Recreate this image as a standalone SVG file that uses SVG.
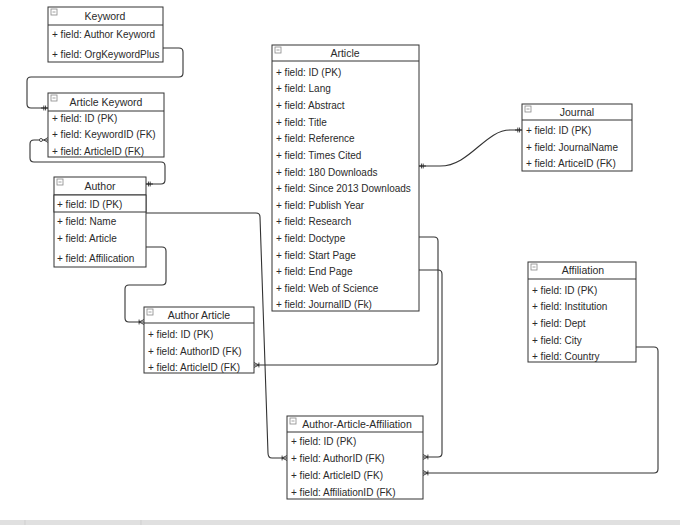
<svg xmlns="http://www.w3.org/2000/svg" width="680" height="525" viewBox="0 0 680 525">
<style>
.box{fill:#fff;stroke:#333;stroke-width:1}
.sep{stroke:#333;stroke-width:1}
.t{font-family:"Liberation Sans",Arial,sans-serif;font-size:10px;fill:#2a2a2a}
.h{font-family:"Liberation Sans",Arial,sans-serif;font-size:10.5px;fill:#2a2a2a;text-anchor:middle}
.ic{fill:#fff;stroke:#888;stroke-width:0.8}
.c{fill:none;stroke:#333;stroke-width:1.1}
</style>
<defs>
<marker id="one" viewBox="0 0 10 10" refX="10" refY="5" markerWidth="7" markerHeight="7" markerUnits="userSpaceOnUse" orient="auto-start-reverse">
<path d="M4,1.5V8.5M6.5,1.5V8.5M0,5H10" fill="none" stroke="#222" stroke-width="1.2"/>
</marker>
<marker id="many" viewBox="0 0 10 10" refX="10" refY="5" markerWidth="7" markerHeight="7" markerUnits="userSpaceOnUse" orient="auto-start-reverse">
<path d="M10,1.5L3,5L10,8.5M3,1.5V8.5" fill="none" stroke="#222" stroke-width="1.2"/>
</marker>
<marker id="zmany" viewBox="0 0 14 10" refX="14" refY="5" markerWidth="10" markerHeight="7" markerUnits="userSpaceOnUse" orient="auto-start-reverse">
<circle cx="4" cy="5" r="2.2" fill="#fff" stroke="#222" stroke-width="1.1"/>
<path d="M14,1.5L8,5L14,8.5" fill="none" stroke="#222" stroke-width="1.1"/>
</marker>
</defs>
<rect width="680" height="525" fill="#fff"/>

<g id="connectors">
<path class="c" d="M163,48H179Q183,48 183,52V73Q183,77 179,77H31Q27,77 27,81V104Q27,108 31,108H48" marker-end="url(#one)"/>
<path class="c" d="M146,184H161Q165,184 165,180V166Q165,162 161,162H34Q30,162 30,158V144Q30,140 34,140H48" marker-start="url(#one)" marker-end="url(#zmany)"/>
<path class="c" d="M146,213H256Q260,213 260,217L268,453Q268,458 272,458H287" marker-end="url(#many)"/>
<path class="c" d="M146,247H162Q166,247 166,251V281Q166,285 162,285H129Q125,285 125,289V318Q125,322 129,322H144" marker-end="url(#many)"/>
<path class="c" d="M419,237H434Q438,237 438,241V361Q438,365 434,365H254" marker-end="url(#many)"/>
<path class="c" d="M419,270H438Q442,270 442,274V453Q442,457 438,457H423" marker-end="url(#many)"/>
<path class="c" d="M636,347H654Q658,347 658,351V469Q658,473 654,473H423" marker-end="url(#many)"/>
<path class="c" d="M419,166H440C470,166 485,130 510,130H522" marker-start="url(#one)" marker-end="url(#one)"/>
</g>

<g id="keyword">
<rect class="box" x="48" y="7" width="115" height="55"/>
<line class="sep" x1="48" y1="25" x2="163" y2="25"/>
<rect class="ic" x="51" y="9" width="6" height="6"/><line x1="52.5" y1="12" x2="55.5" y2="12" stroke="#888" stroke-width="0.8"/>
<text class="h" x="105" y="20">Keyword</text>
<text class="t" x="52" y="38">+ field: Author Keyword</text>
<text class="t" x="52" y="58">+ field: OrgKeywordPlus</text>
</g>

<g id="article-keyword">
<rect class="box" x="48" y="93" width="116" height="64"/>
<line class="sep" x1="48" y1="111" x2="164" y2="111"/>
<rect class="ic" x="51" y="95" width="6" height="6"/><line x1="52.5" y1="98" x2="55.5" y2="98" stroke="#888" stroke-width="0.8"/>
<text class="h" x="106" y="106">Article Keyword</text>
<text class="t" x="52" y="122">+ field: ID (PK)</text>
<text class="t" x="52" y="138">+ field: KeywordID (FK)</text>
<text class="t" x="52" y="155">+ field: ArticleID (FK)</text>
</g>

<g id="author">
<rect class="box" x="54" y="177" width="92" height="90"/>
<line class="sep" x1="54" y1="195" x2="146" y2="195"/>
<rect class="box" x="54" y="195" width="92" height="17"/>
<rect class="ic" x="57" y="179" width="6" height="6"/><line x1="58.5" y1="182" x2="61.5" y2="182" stroke="#888" stroke-width="0.8"/>
<text class="h" x="100" y="190">Author</text>
<text class="t" x="57" y="208">+ field: ID (PK)</text>
<text class="t" x="57" y="225">+ field: Name</text>
<text class="t" x="57" y="242">+ field: Article</text>
<text class="t" x="57" y="262">+ field: Affilication</text>
</g>

<g id="article">
<rect class="box" x="272" y="45" width="147" height="266"/>
<line class="sep" x1="272" y1="61" x2="419" y2="61"/>
<rect class="ic" x="275" y="47" width="6" height="6"/><line x1="276.5" y1="50" x2="279.5" y2="50" stroke="#888" stroke-width="0.8"/>
<text class="h" x="345" y="57">Article</text>
<text class="t" x="276" y="76">+ field: ID (PK)</text>
<text class="t" x="276" y="92">+ field: Lang</text>
<text class="t" x="276" y="109">+ field: Abstract</text>
<text class="t" x="276" y="126">+ field: Title</text>
<text class="t" x="276" y="142">+ field: Reference</text>
<text class="t" x="276" y="159">+ field: Times Cited</text>
<text class="t" x="276" y="176">+ field: 180 Downloads</text>
<text class="t" x="276" y="192">+ field: Since 2013 Downloads</text>
<text class="t" x="276" y="209">+ field: Publish Year</text>
<text class="t" x="276" y="225">+ field: Research</text>
<text class="t" x="276" y="242">+ field: Doctype</text>
<text class="t" x="276" y="259">+ field: Start Page</text>
<text class="t" x="276" y="275">+ field: End Page</text>
<text class="t" x="276" y="292">+ field: Web of Science</text>
<text class="t" x="276" y="308">+ field: JournalID (Fk)</text>
</g>

<g id="journal">
<rect class="box" x="522" y="104" width="110" height="67"/>
<line class="sep" x1="522" y1="120" x2="632" y2="120"/>
<rect class="ic" x="525" y="106" width="6" height="6"/><line x1="526.5" y1="109" x2="529.5" y2="109" stroke="#888" stroke-width="0.8"/>
<text class="h" x="577" y="116">Journal</text>
<text class="t" x="526" y="134">+ field: ID (PK)</text>
<text class="t" x="526" y="151">+ field: JournalName</text>
<text class="t" x="526" y="167">+ field: ArticeID (FK)</text>
</g>

<g id="affiliation">
<rect class="box" x="528" y="262" width="108" height="100"/>
<line class="sep" x1="528" y1="279" x2="636" y2="279"/>
<rect class="ic" x="531" y="264" width="6" height="6"/><line x1="532.5" y1="267" x2="535.5" y2="267" stroke="#888" stroke-width="0.8"/>
<text class="h" x="583" y="274">Affiliation</text>
<text class="t" x="532" y="294">+ field: ID (PK)</text>
<text class="t" x="532" y="310">+ field: Institution</text>
<text class="t" x="532" y="327">+ field: Dept</text>
<text class="t" x="532" y="344">+ field: City</text>
<text class="t" x="532" y="360">+ field: Country</text>
</g>

<g id="author-article">
<rect class="box" x="144" y="307" width="110" height="66"/>
<line class="sep" x1="144" y1="323" x2="254" y2="323"/>
<rect class="ic" x="147" y="309" width="6" height="6"/><line x1="148.5" y1="312" x2="151.5" y2="312" stroke="#888" stroke-width="0.8"/>
<text class="h" x="199" y="319">Author Article</text>
<text class="t" x="148" y="338">+ field: ID (PK)</text>
<text class="t" x="148" y="355">+ field: AuthorID (FK)</text>
<text class="t" x="148" y="371">+ field: ArticleID (FK)</text>
</g>

<g id="author-article-affiliation">
<rect class="box" x="287" y="416" width="136" height="83"/>
<line class="sep" x1="287" y1="432" x2="423" y2="432"/>
<rect class="ic" x="290" y="418" width="6" height="6"/><line x1="291.5" y1="421" x2="294.5" y2="421" stroke="#888" stroke-width="0.8"/>
<text class="h" x="357" y="428">Author-Article-Affiliation</text>
<text class="t" x="291" y="445">+ field: ID (PK)</text>
<text class="t" x="291" y="462">+ field: AuthorID (FK)</text>
<text class="t" x="291" y="479">+ field: ArticleID (FK)</text>
<text class="t" x="291" y="496">+ field: AffiliationID (FK)</text>
</g>

<rect x="0" y="520" width="680" height="5" fill="#e0e0e0"/>
<line x1="25" y1="520" x2="25" y2="525" stroke="#cfcfcf"/>
<line x1="141" y1="520" x2="141" y2="525" stroke="#cfcfcf"/>
</svg>
